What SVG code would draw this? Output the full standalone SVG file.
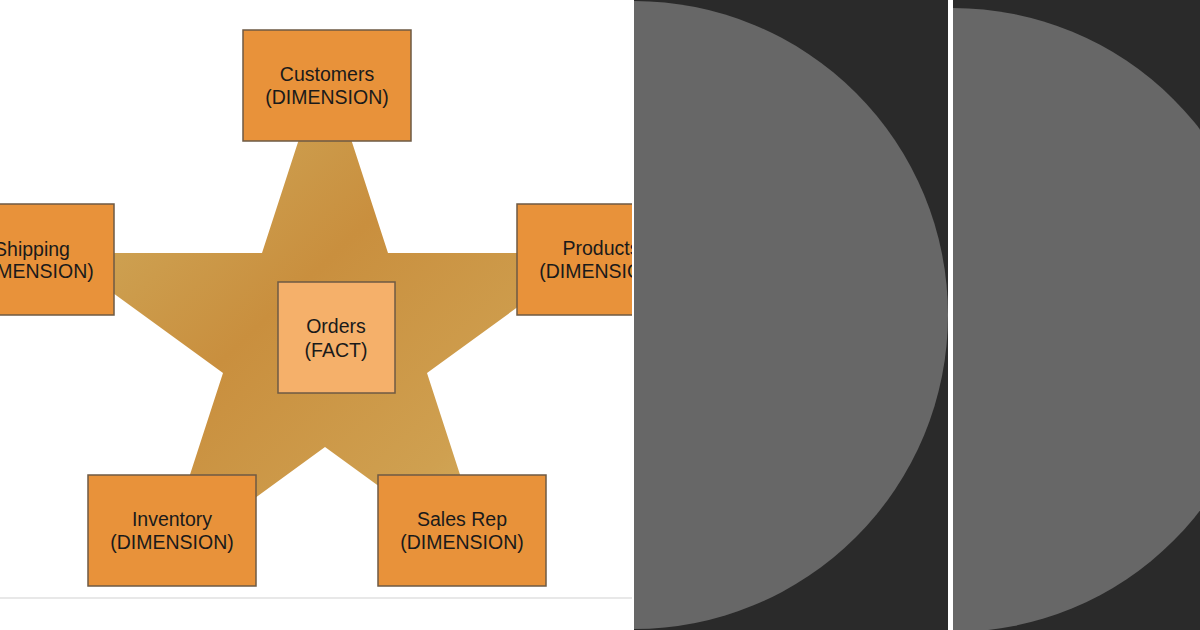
<svg xmlns="http://www.w3.org/2000/svg" width="1200" height="630" viewBox="0 0 1200 630">
<defs>
<linearGradient id="gold" x1="0" y1="0" x2="1" y2="1">
<stop offset="0" stop-color="#d2b466"/>
<stop offset="0.45" stop-color="#c98f3e"/>
<stop offset="0.75" stop-color="#cfa050"/>
<stop offset="1" stop-color="#d6bb6c"/>
</linearGradient>
<clipPath id="left"><rect x="0" y="0" width="632" height="630"/></clipPath>
<clipPath id="r1"><rect x="634" y="0" width="314" height="630"/></clipPath>
<clipPath id="r2"><rect x="953" y="0" width="247" height="630"/></clipPath>
<style>
.box{fill:#e8923a;stroke:#6e5a44;stroke-width:1.5}
.fact{fill:#f5b06a;stroke:#6e5a44;stroke-width:1.5}
text{font-family:"Liberation Sans",Arial,sans-serif;font-size:19.5px;fill:#1a1a1a;text-anchor:middle}
</style>
</defs>
<rect width="1200" height="630" fill="#ffffff"/>
<line x1="0" y1="598" x2="632" y2="598" stroke="#e0e0e0" stroke-width="1.5"/>
<g clip-path="url(#left)">
<polygon points="325,59 388,253 592,253 427,373 490,567 325,447 160,567 223,373 58,253 262,253" fill="url(#gold)"/>
<g id="connectors"></g>
<g id="customers"><rect class="box" x="243" y="30" width="168" height="111"/><text x="327" y="81">Customers</text><text x="327" y="104">(DIMENSION)</text></g>
<g id="shipping"><rect class="box" x="-54" y="204" width="168" height="111"/><text x="32" y="256">Shipping</text><text x="32" y="278">(DIMENSION)</text></g>
<g id="products"><rect class="box" x="517" y="204" width="168" height="111"/><text x="601" y="255">Products</text><text x="601" y="278">(DIMENSION)</text></g>
<g id="orders"><rect class="fact" x="278" y="282" width="117" height="111"/><text x="336" y="333">Orders</text><text x="336" y="357">(FACT)</text></g>
<g id="inventory"><rect class="box" x="88" y="475" width="168" height="111"/><text x="172" y="526">Inventory</text><text x="172" y="549">(DIMENSION)</text></g>
<g id="salesrep"><rect class="box" x="378" y="475" width="168" height="111"/><text x="462" y="526">Sales Rep</text><text x="462" y="549">(DIMENSION)</text></g>
</g>
<rect x="634" y="0" width="566" height="630" fill="#2a2a2a"/>
<circle cx="634" cy="315" r="314" fill="#676767" clip-path="url(#r1)"/>
<rect x="948" y="0" width="5" height="630" fill="#ffffff"/>
<circle cx="953" cy="320" r="312" fill="#676767" clip-path="url(#r2)"/>
</svg>
